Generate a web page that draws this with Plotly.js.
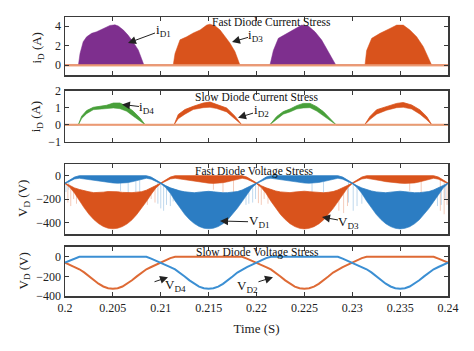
<!DOCTYPE html>
<html><head><meta charset="utf-8">
<script src="https://cdn.plot.ly/plotly-3.0.1.min.js"></script>
<style>html,body{margin:0;padding:0;background:#fff;}#c{width:474px;height:351px;}</style>
</head><body><div id="c"></div>
<script>
// ---- Panel 1: fast diode currents (A) ----
const iD1T = [0.2000,0.2014,0.20157,0.2019,0.20226,0.20278,0.2033,0.20366,0.20418,0.2047,0.20522,0.20557,0.2061,0.20658,0.2071,0.20765,0.20798,0.20825,
              0.2214,0.22176,0.22228,0.22315,0.22402,0.22472,0.22541,0.22611,0.22681,0.2275,0.2283,0.2400];
const iD1  = [0,0,1.2,2.4,2.9,3.26,3.42,3.59,3.86,4.07,4.13,4.0,3.59,3.08,2.4,1.56,0.71,0,
              0,1.5,2.75,3.26,3.76,4.1,4.0,3.42,2.57,1.38,0,0];
const iD3T = [0.2000,0.2113,0.21149,0.21201,0.2127,0.2134,0.2141,0.2148,0.21514,0.2157,0.2162,0.2167,0.2172,0.21775,0.2181,0.21828,
              0.23133,0.2315,0.23203,0.2329,0.23394,0.23464,0.23533,0.23603,0.23673,0.23742,0.2383,0.2400];
const iD3  = [0,0,1.2,2.6,2.9,3.3,3.6,4.1,4.2,4.0,3.6,3.0,2.3,1.4,0.6,0,
              0,1.5,2.75,3.26,3.76,4.1,4.1,3.59,2.9,1.9,0,0];
// ---- Panel 2: slow diode currents (A), band upper/lower ----
const iD4T = [0.2000,0.2014,0.20174,0.20226,0.20296,0.20366,0.20435,0.20505,0.20574,0.20644,0.20713,0.20783,0.20836,
              0.2214,0.22211,0.2228,0.2235,0.2242,0.22489,0.22559,0.22628,0.22698,0.22768,0.2283,0.2400];
const iD4U = [0,0,0.5,0.83,1.02,1.08,1.14,1.27,1.27,1.08,0.79,0.4,0,
              0,0.48,0.77,0.92,1.12,1.25,1.25,1.06,0.77,0.39,0,0];
const iD4L = [0,0,0.36,0.65,0.88,0.92,0.94,0.98,0.94,0.79,0.5,0.21,0,
              0,0.3,0.62,0.75,0.92,0.98,1.0,0.8,0.54,0.23,0,0];
const iD2T = [0.2000,0.2114,0.21183,0.21253,0.2134,0.21444,0.21514,0.21583,0.21688,0.21775,0.21845,
              0.2313,0.23185,0.23255,0.2336,0.23464,0.23533,0.2362,0.23707,0.23777,0.2383,0.2400];
const iD2U = [0,0,0.6,0.89,1.08,1.27,1.33,1.21,0.98,0.5,0,
              0,0.48,0.88,1.06,1.25,1.3,1.16,0.87,0.48,0,0];
const iD2L = [0,0,0.35,0.62,0.89,1.0,1.02,0.95,0.75,0.31,0,
              0,0.3,0.62,0.85,1.0,1.02,0.92,0.62,0.29,0,0];
const baseT = [0.2, 0.24];
const baseI = [0, 0];
// ---- Panels 3 & 4: voltages (V) on a common time grid ----
const tV = [0.2,0.2005,0.201,0.2015,0.202,0.2025,0.203,0.2035,0.204,0.2045,0.205,0.2055,0.206,0.2065,0.207,0.2075,0.208,0.2085,0.209,0.2095,0.21,
            0.2105,0.211,0.2115,0.212,0.2125,0.213,0.2135,0.214,0.2145,0.215,0.2155,0.216,0.2165,0.217,0.2175,0.218,0.2185,0.219,0.2195,0.22,
            0.2205,0.221,0.2215,0.222,0.2225,0.223,0.2235,0.224,0.2245,0.225,0.2255,0.226,0.2265,0.227,0.2275,0.228,0.2285,0.229,0.2295,0.23,
            0.2305,0.231,0.2315,0.232,0.2325,0.233,0.2335,0.234,0.2345,0.235,0.2355,0.236,0.2365,0.237,0.2375,0.238,0.2385,0.239,0.2395,0.24];
const vD3U = [-62,-85,-105,-118,-130,-138,-145,-146,-141,-136,-134,-138,-143,-147,-145,-141,-137,-124,-106,-84,-62,
              -38,-12,0,0,0,0,0,0,0,0,0,0,0,0,0,0,0,-12,-38,-62,
              -86,-104,-120,-131,-139,-144,-145,-140,-135,-133,-137,-142,-146,-146,-142,-136,-122,-105,-84,-62,
              -38,-12,0,0,0,0,0,0,0,0,0,0,0,0,0,0,0,-12,-38,-62];
const vD3L = [-68,-100,-150,-215,-275,-330,-375,-410,-435,-450,-455,-450,-436,-412,-378,-332,-280,-222,-160,-105,-68,
              -45,-28,-22,-28,-36,-44,-52,-58,-62,-64,-66,-65,-60,-52,-42,-30,-22,-30,-48,-68,
              -102,-152,-218,-278,-332,-376,-411,-436,-451,-456,-451,-437,-413,-379,-334,-282,-224,-162,-106,-68,
              -45,-28,-22,-27,-35,-43,-51,-57,-61,-64,-66,-66,-62,-54,-44,-32,-22,-30,-48,-68];
const vD1U = [-62,-38,-12,0,0,0,0,0,0,0,0,0,0,0,0,0,0,0,-12,-38,-62,
              -85,-104,-119,-130,-138,-144,-146,-141,-136,-134,-138,-143,-146,-145,-141,-136,-123,-105,-84,-62,
              -38,-12,0,0,0,0,0,0,0,0,0,0,0,0,0,0,0,-12,-38,-62,
              -86,-105,-120,-131,-139,-145,-146,-141,-136,-133,-137,-142,-146,-145,-141,-136,-122,-105,-84,-62];
const vD1L = [-68,-45,-28,-22,-28,-34,-42,-50,-56,-60,-62,-65,-64,-60,-52,-42,-30,-22,-30,-48,-68,
              -101,-151,-216,-276,-331,-376,-410,-435,-450,-455,-450,-436,-411,-377,-331,-279,-222,-160,-105,-68,
              -45,-28,-22,-28,-35,-43,-50,-56,-60,-63,-65,-63,-58,-50,-40,-30,-22,-30,-48,-68,
              -102,-152,-217,-277,-331,-376,-411,-436,-451,-456,-451,-437,-412,-378,-333,-281,-223,-161,-106,-68];
// switching spikes: time, top, bottom
const spkD3T = [0.2003,0.2006,0.2009,0.2012,0.2016,0.2086,0.2090,0.2094,0.2155,0.2165,0.2176,0.2202,0.2205,0.2208,0.2212,0.2286,0.2291,0.2295,0.2360,0.2372,0.2392,0.2396,0.2399];
const spkD3A = [-80,-95,-110,-125,-140,-130,-108,-90,-60,-55,-40,-70,-88,-100,-115,-125,-105,-88,-60,-45,-20,-40,-60];
const spkD3B = [-230,-260,-200,-240,-210,-250,-200,-230,-120,-140,-150,-235,-250,-200,-240,-300,-320,-260,-130,-150,-300,-330,-250];
const spkD1T = [0.2001,0.2004,0.2058,0.2066,0.2074,0.2078,0.2097,0.2100,0.2103,0.2106,0.2110,0.2113,0.2189,0.2192,0.2196,0.2199,0.2258,0.2270,0.2296,0.2301,0.2305,0.2310,0.2389,0.2393,0.2397];
const spkD1A = [-55,-40,-60,-58,-45,-35,-50,-65,-78,-90,-104,-115,-110,-98,-80,-65,-62,-50,-45,-66,-86,-105,-108,-95,-78];
const spkD1B = [-140,-120,-130,-150,-140,-160,-240,-280,-300,-250,-260,-220,-250,-240,-230,-200,-140,-150,-230,-300,-260,-240,-260,-250,-200];
// panel 4 slow diode voltages
const vD2 = [-60,-82,-105,-128,-160,-200,-240,-275,-303,-320,-326,-320,-303,-275,-240,-200,-160,-128,-105,-82,-60,
             -38,-14,0,0,0,0,0,0,0,0,0,0,0,0,0,0,0,-20,-40,-60,
             -83,-106,-129,-161,-201,-241,-276,-304,-321,-327,-321,-304,-276,-241,-201,-161,-129,-106,-83,-60,
             -38,-14,0,0,0,0,0,0,0,0,0,0,0,0,0,0,0,-20,-40,-60];
const vD4 = [-60,-38,-14,0,0,0,0,0,0,0,0,0,0,0,0,0,0,0,-20,-40,-60,
             -83,-106,-129,-161,-201,-241,-276,-304,-321,-327,-321,-304,-276,-241,-201,-161,-129,-106,-83,-60,
             -38,-14,0,0,0,0,0,0,0,0,0,0,0,0,0,0,0,-20,-40,-60,
             -82,-105,-128,-160,-200,-240,-275,-303,-320,-326,-320,-303,-275,-240,-200,-160,-128,-105,-82,-60];

const xTicks = [0.2,0.205,0.21,0.215,0.22,0.225,0.23,0.235,0.24];
const yT1 = [0,2,4], yT2 = [-1,0,1,2], yT3 = [-400,-200,0], yT4 = [-400,-200,0];

const PUR='#7e2f8e', ORA='#d9531c', BLU='#2c7dc3', GRN='#48a03a', BASE='#eb9a74';

function spikes(T,A,B){const x=[],y=[];for(let i=0;i<T.length;i++){x.push(T[i],T[i],null);y.push(A[i],B[i],null);}return {x,y};}
const sp3 = spikes(spkD3T,spkD3A,spkD3B), sp1 = spikes(spkD1T,spkD1A,spkD1B);

const traces = [
  {x:baseT,y:baseI,xaxis:'x',yaxis:'y',mode:'lines',line:{color:BASE,width:2}},
  {x:iD1T,y:iD1,xaxis:'x',yaxis:'y',mode:'lines',fill:'tozeroy',fillcolor:PUR,line:{color:PUR,width:0.5}},
  {x:iD3T,y:iD3,xaxis:'x',yaxis:'y',mode:'lines',fill:'tozeroy',fillcolor:ORA,line:{color:ORA,width:0.5}},
  {x:baseT,y:baseI,xaxis:'x',yaxis:'y',mode:'lines',line:{color:BASE,width:2}},

  {x:iD4T,y:iD4L,xaxis:'x2',yaxis:'y2',mode:'lines',line:{color:GRN,width:0.5}},
  {x:iD4T,y:iD4U,xaxis:'x2',yaxis:'y2',mode:'lines',fill:'tonexty',fillcolor:GRN,line:{color:GRN,width:0.8}},
  {x:iD2T,y:iD2L,xaxis:'x2',yaxis:'y2',mode:'lines',line:{color:ORA,width:0.5}},
  {x:iD2T,y:iD2U,xaxis:'x2',yaxis:'y2',mode:'lines',fill:'tonexty',fillcolor:ORA,line:{color:ORA,width:0.8}},
  {x:baseT,y:baseI,xaxis:'x2',yaxis:'y2',mode:'lines',line:{color:BASE,width:2}},

  {x:sp3.x,y:sp3.y,xaxis:'x3',yaxis:'y3',mode:'lines',connectgaps:false,line:{color:'rgba(217,83,28,0.3)',width:1}},
  {x:sp1.x,y:sp1.y,xaxis:'x3',yaxis:'y3',mode:'lines',connectgaps:false,line:{color:'rgba(44,125,195,0.3)',width:1}},
  {x:tV,y:vD3L,xaxis:'x3',yaxis:'y3',mode:'lines',line:{color:ORA,width:0.6}},
  {x:tV,y:vD3U,xaxis:'x3',yaxis:'y3',mode:'lines',fill:'tonexty',fillcolor:ORA,line:{color:ORA,width:0.8}},
  {x:tV,y:vD1L,xaxis:'x3',yaxis:'y3',mode:'lines',line:{color:BLU,width:0.6}},
  {x:tV,y:vD1U,xaxis:'x3',yaxis:'y3',mode:'lines',fill:'tonexty',fillcolor:BLU,line:{color:BLU,width:0.8}},

  {x:tV,y:vD2,xaxis:'x4',yaxis:'y4',mode:'lines',line:{color:'#de6a35',width:2}},
  {x:tV,y:vD4,xaxis:'x4',yaxis:'y4',mode:'lines',line:{color:'#3b8fd3',width:2}}
];

const FONT = 'Liberation Serif, Times New Roman, serif';
function xa(extra){return Object.assign({range:[0.2,0.24],tickvals:xTicks,ticks:'inside',ticklen:4,tickcolor:'#3a3a3a',mirror:'ticks',
  showline:true,linecolor:'#3a3a3a',linewidth:1.5,showgrid:false,zeroline:false,showticklabels:false,
  tickfont:{family:FONT,size:12,color:'#222'}},extra);}
function ya(dom,range,tv){return {domain:dom,range:range,tickvals:tv,ticks:'inside',ticklen:4,tickcolor:'#3a3a3a',mirror:'ticks',
  showline:true,linecolor:'#3a3a3a',linewidth:1.5,showgrid:false,zeroline:false,
  tickfont:{family:FONT,size:12,color:'#222'}};}

const lblFont = {family:FONT,size:13,color:'#111'};
const ttlFont = {family:FONT,size:11.5,color:'#111'};
const axtFont = {family:FONT,size:13,color:'#222'};
function ttl(x,y,t){return {xref:'paper',yref:'paper',x:x,y:y,xanchor:'center',yanchor:'middle',text:t,showarrow:false,font:ttlFont};}
function ytl(x,y,t){return {xref:'paper',yref:'paper',x:x,y:y,xanchor:'center',yanchor:'middle',textangle:-90,text:t,showarrow:false,font:axtFont};}
// label with an arrow running from the label to the pointed-at spot
function lblA(xr,yr,x,y,ax,ay,t){return {xref:xr,yref:yr,x:x,y:y,ax:ax,ay:ay,text:t,showarrow:true,arrowhead:2,arrowsize:1.6,
  arrowwidth:1,arrowcolor:'#222',borderpad:0,standoff:0,font:lblFont};}
function arr(xr,yr,x,y,ax,ay){return {xref:xr,yref:yr,x:x,y:y,ax:ax,ay:ay,text:'',showarrow:true,arrowhead:2,arrowsize:1.6,arrowwidth:1,arrowcolor:'#222'};}
function lbl(xr,yr,x,y,t){return {xref:xr,yref:yr,x:x,y:y,xanchor:'center',yanchor:'middle',text:t,showarrow:false,font:lblFont};}

const annotations = [
  ttl(0.539,0.982,'Fast Diode Current Stress'),
  ttl(0.501,0.713,'Slow Diode Current Stress'),
  ttl(0.496,0.448,'Fast Diode Voltage Stress'),
  ttl(0.503,0.156,'Slow Diode Voltage Stress'),

  ytl(-0.072,0.892,'i<sub>D</sub> (A)'),
  ytl(-0.075,0.645,'i<sub>D</sub> (A)'),
  ytl(-0.107,0.348,'V<sub>D</sub> (V)'),
  ytl(-0.107,0.088,'V<sub>D</sub> (V)'),

  lblA('x','y',0.20658,2.27,35,-13,'i<sub>D1</sub>'),
  lblA('x','y',0.21744,2.37,24,-7,'i<sub>D3</sub>'),
  lblA('x2','y2',0.20595,1.19,25,3,'i<sub>D4</sub>'),
  lblA('x2','y2',0.21807,0.41,23,-7,'i<sub>D2</sub>'),
  lblA('x3','y3',0.21619,-388,39,1,'V<sub>D1</sub>'),
  lblA('x3','y3',0.22684,-354,27,5,'V<sub>D3</sub>'),

  arr('x4','y4',0.21076,-209,-15,5),
  lbl('x4','y4',0.21149,-290,'V<sub>D4</sub>'),
  arr('x4','y4',0.22172,-209,-16,5),
  lbl('x4','y4',0.21911,-300,'V<sub>D2</sub>')
];

const layout = {
  width:474,height:351,margin:{l:65,r:26,t:17,b:55},
  paper_bgcolor:'#fff',plot_bgcolor:'#fff',showlegend:false,
  font:{family:FONT,size:12,color:'#222'},
  xaxis:xa({anchor:'y'}),
  xaxis2:xa({anchor:'y2'}),
  xaxis3:xa({anchor:'y3'}),
  xaxis4:xa({anchor:'y4',showticklabels:true,title:{text:'Time (S)',font:{family:FONT,size:13,color:'#222'},standoff:10}}),
  yaxis:ya([0.792,1],[-1,4.93],yT1),
  yaxis2:ya([0.553,0.736],[-1,2],yT2),
  yaxis3:ya([0.222,0.473],[-500,100],yT3),
  yaxis4:ya([0,0.176],[-400,100],yT4),
  annotations:annotations
};
Plotly.newPlot('c',traces,layout,{staticPlot:true,displayModeBar:false});
</script></body></html>
